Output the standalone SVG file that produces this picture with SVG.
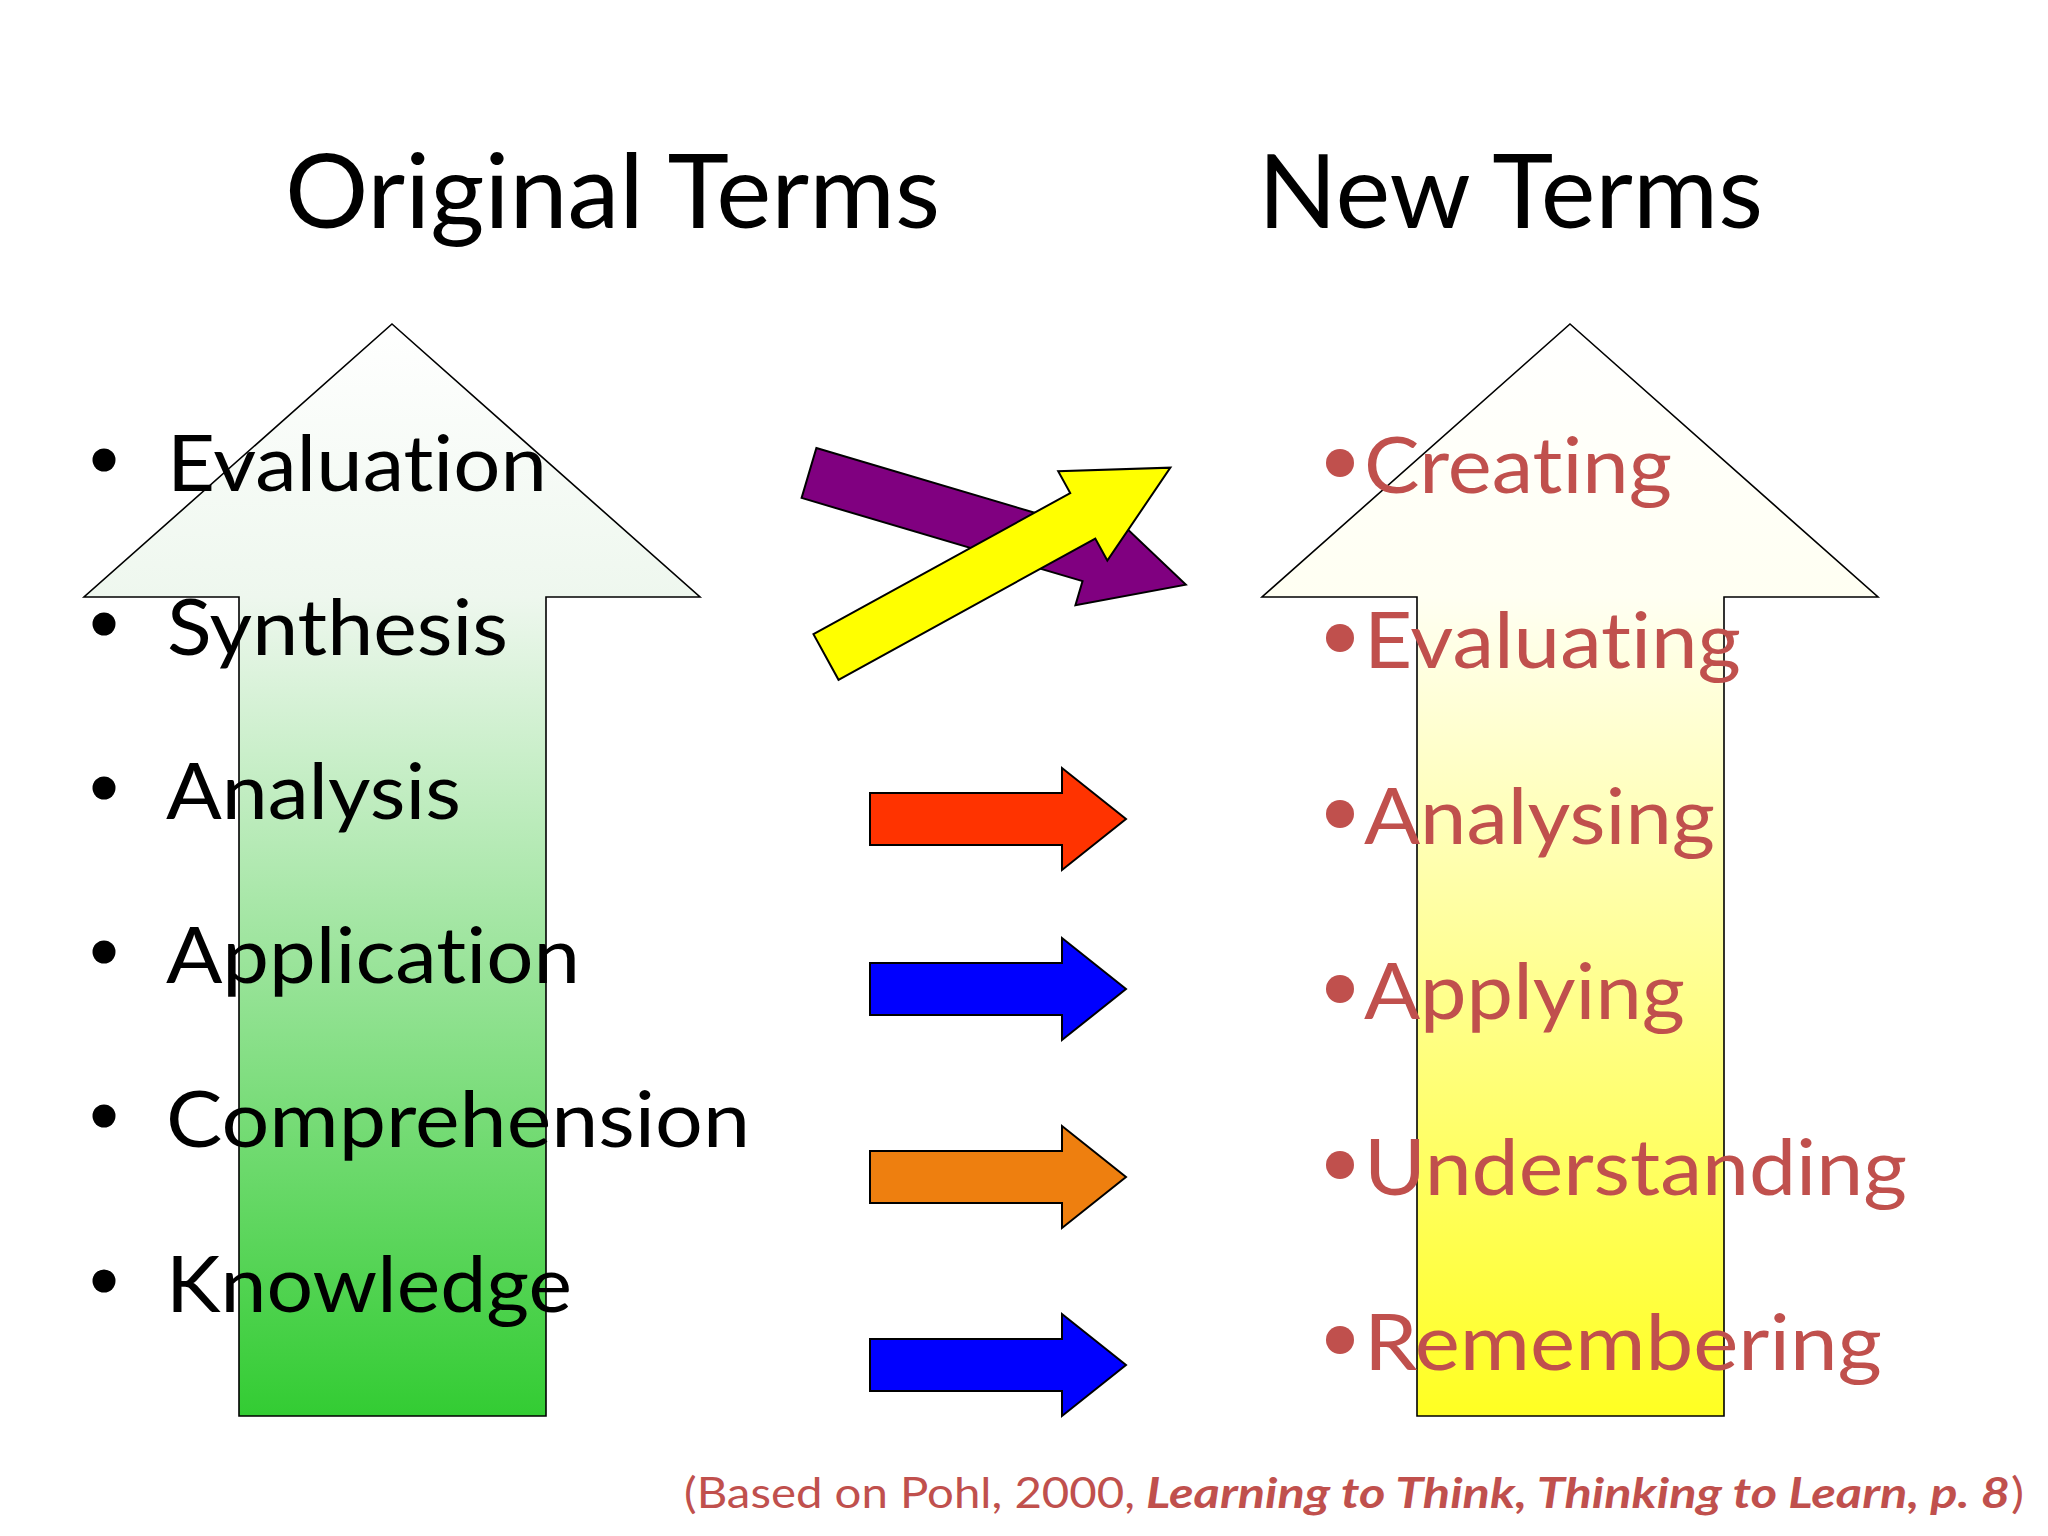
<svg xmlns="http://www.w3.org/2000/svg" xmlns:xlink="http://www.w3.org/1999/xlink" width="2048" height="1536" viewBox="0 0 2048 1536">
<style>
text{font-variant-ligatures:none;font-feature-settings:"liga" 0,"clig" 0}
.title{font-family:Lato,"Open Sans","Liberation Sans",sans-serif;font-size:102px;fill:#000}
.orig{font-family:Lato,"Open Sans","Liberation Sans",sans-serif;font-size:78px;fill:#000}
.new{font-family:Lato,"Open Sans","Liberation Sans",sans-serif;font-size:78px;fill:#c0504d}
.cite{font-family:Lato,"Open Sans","Liberation Sans",sans-serif;font-size:42px;fill:#c0504d}
.big{stroke:#000;stroke-width:1.6;stroke-linejoin:miter}
.ar{stroke:#000;stroke-width:2;stroke-linejoin:miter}
</style>
<defs>
<linearGradient id="gGreen" gradientUnits="userSpaceOnUse" x1="0" y1="324" x2="0" y2="1416">
<stop offset="0" stop-color="#ffffff"/>
<stop offset="0.25" stop-color="#eef7ee"/>
<stop offset="1" stop-color="#33cc33"/>
</linearGradient>
<linearGradient id="gYellow" gradientUnits="userSpaceOnUse" x1="0" y1="324" x2="0" y2="1416">
<stop offset="0" stop-color="#ffffff"/>
<stop offset="0.25" stop-color="#fffff2"/>
<stop offset="1" stop-color="#ffff22"/>
</linearGradient>
<path id="hArrow" d="M0,-26 H192 V-51 L256,0 L192,51 V26 H0 Z"/>
<path id="dArrow" d="M0,-26 H293 V-51 L393,0 L293,51 V26 H0 Z"/>
</defs>
<rect width="2048" height="1536" fill="#fff"/>

<g id="title-original"><text class="title" x="285" y="228" textLength="655" lengthAdjust="spacingAndGlyphs">Original Terms</text></g>
<g id="title-new"><text class="title" x="1258" y="228" textLength="505" lengthAdjust="spacingAndGlyphs">New Terms</text></g>

<g id="arrow-original"><polygon class="big" fill="url(#gGreen)" points="392,324 700,597 546,597 546,1416 239,1416 239,597 84,597"/></g>
<g id="arrow-new"><polygon class="big" fill="url(#gYellow)" points="1570,324 1878,597 1724,597 1724,1416 1417,1416 1417,597 1262,597"/></g>

<g id="connectors">
<use xlink:href="#dArrow" class="ar" fill="#800080" transform="translate(809,473) rotate(16.5)"/>
<use xlink:href="#dArrow" class="ar" fill="#ffff00" transform="translate(826,657) rotate(-28.8)"/>
<use xlink:href="#hArrow" class="ar" fill="#ff3300" transform="translate(870,819)"/>
<use xlink:href="#hArrow" class="ar" fill="#0000ff" transform="translate(870,989)"/>
<use xlink:href="#hArrow" class="ar" fill="#ee7f0f" transform="translate(870,1177)"/>
<use xlink:href="#hArrow" class="ar" fill="#0000ff" transform="translate(870,1365)"/>
</g>

<g id="list-original">
<circle cx="104" cy="460" r="11.5" fill="#000"/>
<text class="orig" x="167" y="491" textLength="380" lengthAdjust="spacingAndGlyphs">Evaluation</text>
<circle cx="104" cy="624" r="11.5" fill="#000"/>
<text class="orig" x="167" y="655" textLength="341" lengthAdjust="spacingAndGlyphs">Synthesis</text>
<circle cx="104" cy="788" r="11.5" fill="#000"/>
<text class="orig" x="166" y="819" textLength="295" lengthAdjust="spacingAndGlyphs">Analysis</text>
<circle cx="104" cy="952" r="11.5" fill="#000"/>
<text class="orig" x="166" y="983" textLength="414" lengthAdjust="spacingAndGlyphs">Application</text>
<circle cx="104" cy="1116" r="11.5" fill="#000"/>
<text class="orig" x="166" y="1147" textLength="584" lengthAdjust="spacingAndGlyphs">Comprehension</text>
<circle cx="104" cy="1281" r="11.5" fill="#000"/>
<text class="orig" x="166" y="1312" textLength="406" lengthAdjust="spacingAndGlyphs">Knowledge</text>
</g>

<g id="list-new">
<circle cx="1340" cy="463" r="14" fill="#c0504d"/>
<text class="new" x="1364" y="493" textLength="308" lengthAdjust="spacingAndGlyphs">Creating</text>
<circle cx="1340" cy="638" r="14" fill="#c0504d"/>
<text class="new" x="1364" y="668" textLength="377" lengthAdjust="spacingAndGlyphs">Evaluating</text>
<circle cx="1340" cy="814" r="14" fill="#c0504d"/>
<text class="new" x="1364" y="844" textLength="351" lengthAdjust="spacingAndGlyphs">Analysing</text>
<circle cx="1340" cy="989" r="14" fill="#c0504d"/>
<text class="new" x="1364" y="1019" textLength="321" lengthAdjust="spacingAndGlyphs">Applying</text>
<circle cx="1340" cy="1165" r="14" fill="#c0504d"/>
<text class="new" x="1364" y="1195" textLength="543" lengthAdjust="spacingAndGlyphs">Understanding</text>
<circle cx="1340" cy="1340" r="14" fill="#c0504d"/>
<text class="new" x="1364" y="1370" textLength="518" lengthAdjust="spacingAndGlyphs">Remembering</text>
</g>

<g id="citation"><text class="cite" y="1508"><tspan x="684" textLength="451" lengthAdjust="spacingAndGlyphs">(Based on Pohl, 2000,</tspan><tspan x="1146" textLength="864" lengthAdjust="spacingAndGlyphs" font-weight="bold" font-style="italic">Learning to Think, Thinking to Learn, p. 8</tspan><tspan x="2011" textLength="13" lengthAdjust="spacingAndGlyphs">)</tspan></text></g>
</svg>
